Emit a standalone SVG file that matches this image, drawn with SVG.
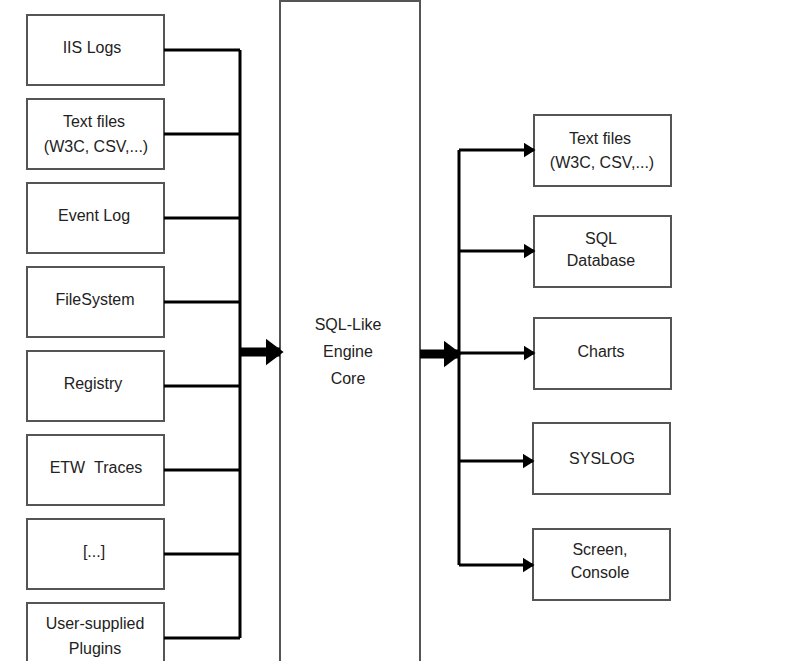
<svg xmlns="http://www.w3.org/2000/svg" width="790" height="661" viewBox="0 0 790 661">
<style>
.b{fill:#fff;stroke:#555;stroke-width:2}
.t{font-family:"Liberation Sans",Arial,sans-serif;font-size:16px;fill:#222;text-anchor:middle}
.c{stroke:#000;stroke-width:3;fill:none}
.k{stroke:#000;stroke-width:9;fill:none}
</style>
<defs>
<marker id="a" markerWidth="4" markerHeight="5" refX="3.5" refY="2.5" orient="auto" markerUnits="strokeWidth"><path d="M0,0L4,2.5L0,5z"/></marker>
<marker id="ak" markerWidth="2" markerHeight="3" refX="1.6" refY="1.5" orient="auto" markerUnits="strokeWidth"><path d="M0,0L2,1.5L0,3z"/></marker>
</defs>
<rect width="790" height="661" fill="#fff"/>
<g id="core"><rect class="b" x="280" y="1" width="140" height="670"/><text class="t" x="348" y="330">SQL-Like</text><text class="t" x="348" y="357">Engine</text><text class="t" x="348" y="384">Core</text></g>
<g id="in1"><rect class="b" x="27" y="15" width="137" height="70"/><text class="t" x="92" y="53">IIS Logs</text></g>
<g id="in2"><rect class="b" x="27" y="99" width="137" height="70"/><text class="t" x="94" y="127">Text files</text><text class="t" x="96" y="152">(W3C, CSV,...)</text></g>
<g id="in3"><rect class="b" x="27" y="183" width="137" height="70"/><text class="t" x="94" y="221">Event Log</text></g>
<g id="in4"><rect class="b" x="27" y="267" width="137" height="70"/><text class="t" x="95" y="305">FileSystem</text></g>
<g id="in5"><rect class="b" x="27" y="351" width="137" height="70"/><text class="t" x="93" y="389">Registry</text></g>
<g id="in6"><rect class="b" x="27" y="435" width="137" height="70"/><text class="t" x="96" y="473">ETW&#160;&#160;Traces</text></g>
<g id="in7"><rect class="b" x="27" y="519" width="137" height="70"/><text class="t" x="94" y="557">[...]</text></g>
<g id="in8"><rect class="b" x="27" y="603" width="137" height="70"/><text class="t" x="95" y="629">User-supplied</text><text class="t" x="95" y="654">Plugins</text></g>
<g id="out1"><rect class="b" x="534" y="115" width="137" height="71"/><text class="t" x="600" y="144">Text files</text><text class="t" x="602" y="168">(W3C, CSV,...)</text></g>
<g id="out2"><rect class="b" x="534" y="216" width="137" height="71"/><text class="t" x="601" y="244">SQL</text><text class="t" x="601" y="266">Database</text></g>
<g id="out3"><rect class="b" x="534" y="318" width="137" height="71"/><text class="t" x="601" y="357">Charts</text></g>
<g id="out4"><rect class="b" x="533" y="423" width="137" height="71"/><text class="t" x="602" y="464">SYSLOG</text></g>
<g id="out5"><rect class="b" x="533" y="529" width="137" height="71"/><text class="t" x="600" y="555">Screen,</text><text class="t" x="600" y="578">Console</text></g>
<g id="connectors">
<path class="c" d="M164,50H240M164,134H240M164,218H240M164,302H240M164,386H240M164,470H240M164,554H240M164,638H240M240,50V638"/>
<path class="k" d="M240,352H280" marker-end="url(#ak)"/>
<path class="k" d="M420,354H458" marker-end="url(#ak)"/>
<path class="c" d="M459,150V565"/>
<path class="c" d="M459,150H534" marker-end="url(#a)"/>
<path class="c" d="M459,251H534" marker-end="url(#a)"/>
<path class="c" d="M459,353H534" marker-end="url(#a)"/>
<path class="c" d="M459,461H533" marker-end="url(#a)"/>
<path class="c" d="M459,565H533" marker-end="url(#a)"/>
</g>
</svg>
